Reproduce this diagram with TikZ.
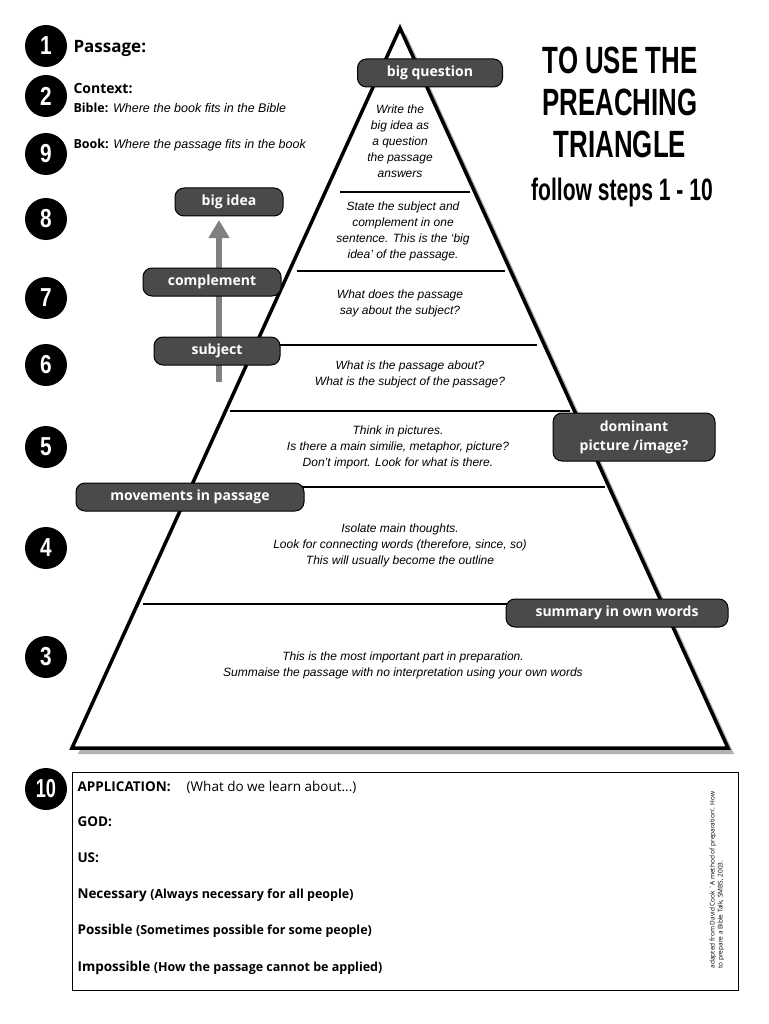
\documentclass[tikz,border=0pt]{standalone}
\usepackage{fontspec}
\setmainfont{Liberation Sans}
\newfontfamily\pill{Open Sans}
\usetikzlibrary{arrows.meta}
\definecolor{pillgray}{HTML}{4A4A4A}
\tikzset{
 x=1pt,y=-1pt,
 num/.style={circle,fill=black,text=white,minimum size=42pt,inner sep=0pt,font=\fontsize{26}{26}\selectfont\bfseries},
 pillbox/.style={rounded corners=9pt,fill=pillgray,draw=black,line width=1pt,text=white,font=\pill\fontsize{14}{16}\selectfont\bfseries,minimum height=28pt,align=center,inner xsep=6pt},
 tri/.style={font=\fontsize{12}{16}\selectfont\itshape,align=center},
 divl/.style={line width=2pt},
 lbl/.style={font=\pill\fontsize{13.5}{15}\selectfont\bfseries,anchor=west},
}
\begin{document}
\begin{tikzpicture}
\useasboundingbox (0,0) rectangle (768,1024);
% triangle with shadow
\fill[gray!60] (406,34) -- (734,754) -- (78,754) -- cycle;
\draw[line width=3.5pt,fill=white,line join=miter] (400,28) coordinate(apex) -- (728,748) coordinate(br) -- (72,748) coordinate(bl) -- cycle;
% dividers
\foreach \y/\a/\b in {192/340/470, 271/297/505, 345/270/537, 411/230/570, 487/190/605, 604/143/656}
  \draw[divl] (\a,\y) -- (\b,\y);
% arrow
\draw[line width=6pt,gray,-{Triangle[length=18pt,width=20pt]}] (219,382) -- (219,220);
% numbers
\foreach \n/\y in {1/46,2/96,9/154,8/219,7/298,6/365,5/447,4/548,3/657}
  \node[num] (n\n) at (46,\y) {\scalebox{0.8}[1]{\n}};
\node[num] (n10) at (46,789) {\scalebox{0.7}[1]{10}};
% top-left texts
\node[lbl,font=\pill\fontsize{17}{18}\selectfont\bfseries] (pass) at (70,48) {Passage:};
\node[lbl,font=\pill\fontsize{14}{15}\selectfont\bfseries] (ctx) at (70,89) {Context:};
\node[anchor=west,font=\fontsize{12.5}{14}\selectfont] (bib) at (70,108) {{\pill\bfseries Bible:} \itshape Where the book fits in the Bible};
\node[anchor=west,font=\fontsize{12.5}{14}\selectfont] (book) at (70,145) {{\pill\bfseries Book:} \itshape Where the passage fits in the book};
% title
\node[align=center,font=\fontsize{38}{42}\selectfont\bfseries] (title) at (620,102) {\scalebox{0.68}[1]{TO USE THE}\\\scalebox{0.68}[1]{PREACHING}\\\scalebox{0.68}[1]{TRIANGLE}};
\node[font=\fontsize{31}{32}\selectfont\bfseries] (follow) at (622,192) {\scalebox{0.68}[1]{follow steps 1 - 10}};
% triangle texts
\node[tri] (t1) at (400,141) {Write the\\big idea as\\a question\\the passage\\answers};
\node[tri] (t2) at (403,231) {State the subject and\\complement in one\\sentence. This is the `big\\idea' of the passage.};
\node[tri] (t3) at (400,303) {What does the passage\\say about the subject?};
\node[tri] (t4) at (410,374) {What is the passage about?\\What is the subject of the passage?};
\node[tri] (t5) at (398,447) {Think in pictures.\\Is there a main similie, metaphor, picture?\\Don't import. Look for what is there.};
\node[tri] (t6) at (400,545) {Isolate main thoughts.\\Look for connecting words (therefore, since, so)\\This will usually become the outline};
\node[tri] (t7) at (403,665) {This is the most important part in preparation.\\Summaise the passage with no interpretation using your own words};
% pills
\node[pillbox,minimum width=145pt] (bq) at (430,73) {big question};
\node[pillbox,minimum width=108pt] (bi) at (229,202) {big idea};
\node[pillbox,minimum width=138pt] (co) at (212,282) {complement};
\node[pillbox,minimum width=126pt] (su) at (217,351) {subject};
\node[pillbox,minimum width=162pt,minimum height=48pt,font=\pill\fontsize{14}{19}\selectfont\bfseries] (dp) at (634,437) {dominant\\picture /image?};
\node[pillbox,minimum width=228pt] (mv) at (190,497) {movements in passage};
\node[pillbox,minimum width=222pt] (sm) at (617,613) {summary in own words};
% application box
\draw[line width=1pt] (72,772) rectangle (738,990);
\node[lbl] (app) at (74,787) {APPLICATION:\hspace{16pt}\mdseries(What do we learn about...)};
\node[lbl] (god) at (74,822) {GOD:};
\node[lbl] (us) at (74,858) {US:};
\node[lbl] (nec) at (74,895) {Necessary \fontsize{12.5}{14}\selectfont(Always necessary for all people)};
\node[lbl] (pos) at (74,931) {Possible \fontsize{12.5}{14}\selectfont(Sometimes possible for some people)};
\node[lbl] (imp) at (74,968) {Impossible \fontsize{12.5}{14}\selectfont(How the passage cannot be applied)};
\node[rotate=90,align=left,font=\pill\fontsize{6.5}{8}\selectfont] (src) at (717,880) {adapted from David Cook `A method of preparation'. How\\to prepare a Bible Talk, SMBS, 2003.};
\end{tikzpicture}
\end{document}
